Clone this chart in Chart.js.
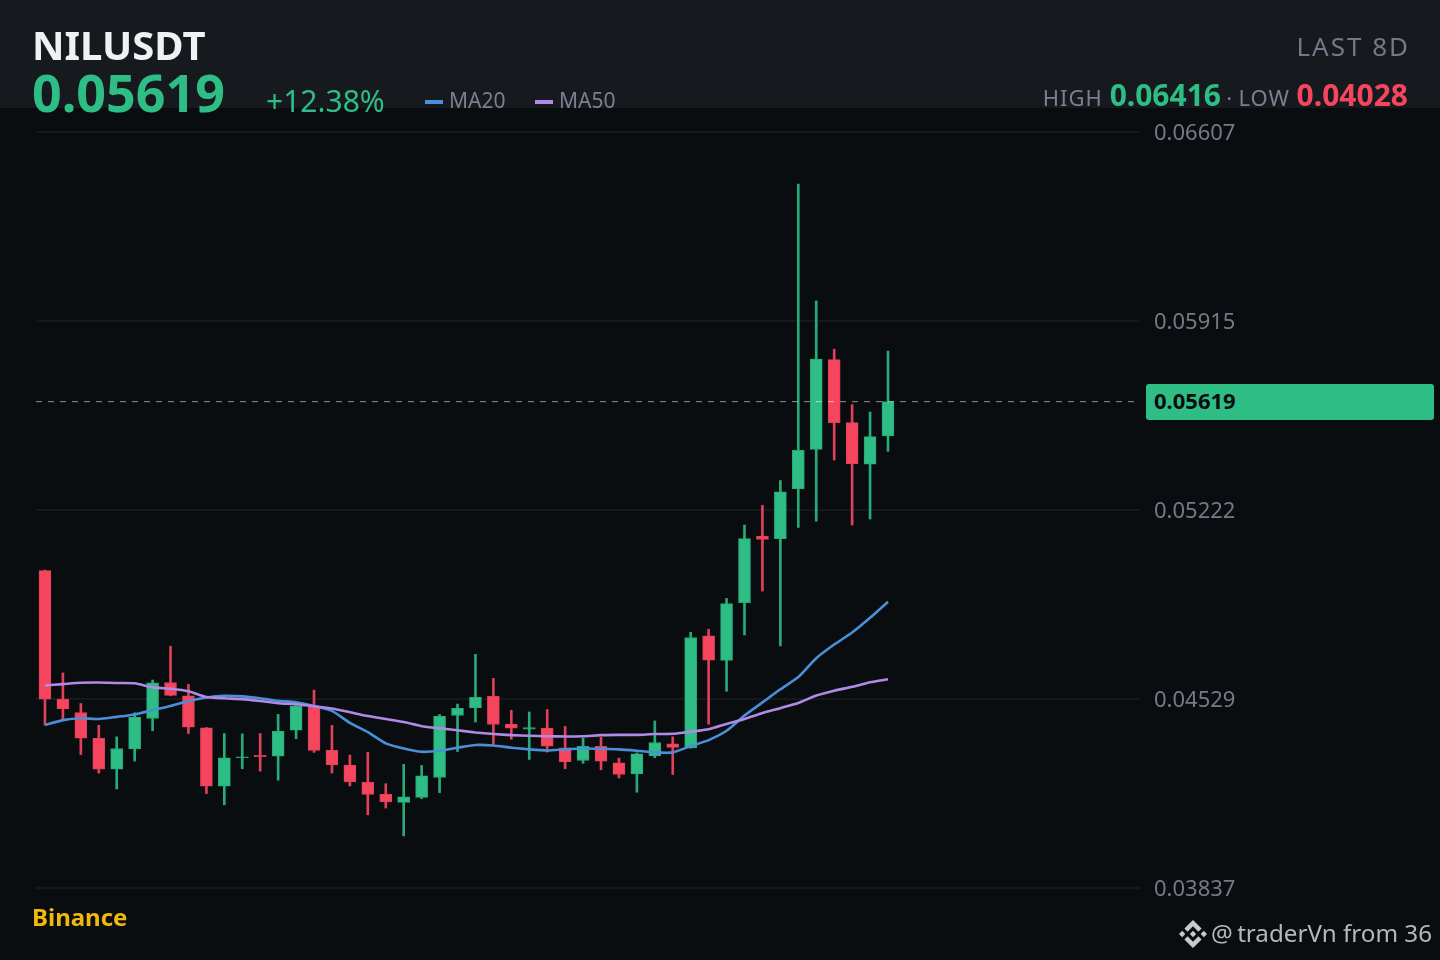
<!DOCTYPE html>
<html>
<head>
<meta charset="utf-8">
<title>NILUSDT</title>
<script src="https://cdn.jsdelivr.net/npm/chart.js@4/dist/chart.umd.min.js"></script>
<style>
    html, body { margin: 0; padding: 0; background: #0a0d10; }
    body { width: 1440px; height: 960px; overflow: hidden; position: relative; font-family: "Noto Sans", sans-serif; }
    #band { position: absolute; left: 0; top: 0; width: 1440px; height: 108px; background: #161a1f; }
    #chart { position: absolute; left: 0; top: 0; }
    .txt { position: absolute; white-space: nowrap; line-height: 1; }
    .dash { position: absolute; width: 18px; height: 4px; }
    #symbol { left: 32px; top: 25px; font-size: 40px; font-weight: 700; color: #f0f1f5; }
    #price { left: 32px; top: 66px; font-size: 52px; font-weight: 700; color: #2ebd85; }
    #change { left: 266px; top: 86px; font-size: 30px; color: #2ebd85; }
    .legend { top: 90px; font-size: 21px; color: #7a8090; }
    #last { right: 30px; top: 33px; font-size: 26px; letter-spacing: 2px; color: #727988; }
    #hilo { right: 32px; top: 80px; font-size: 22px; letter-spacing: 1px; color: #7a8090; }
    #hilo b { font-size: 30px; font-weight: 700; letter-spacing: 0; }
    #hilo i { font-style: normal; margin: 0 -1.5px; }
    #tag { position: absolute; left: 1146px; width: 288px; height: 36px; background: #2ebd85; border-radius: 3px;
           font-size: 22px; font-weight: 700; color: #0a0d10; line-height: 33px; text-indent: 8px; }
    #venue { left: 32px; top: 905px; font-size: 24px; font-weight: 700; color: #f0b90b; }
    #credit { right: 8px; top: 921px; font-size: 24.2px; color: #b4b8be; }
    #credit span { margin-right: -2px; }
    #logo { position: absolute; left: 1179px; top: 920px; width: 28px; height: 28px; fill: #c8cacd; }
</style>
</head>
<body>
<div id="band"></div>
<canvas id="chart" width="1440" height="960"></canvas>

<div class="txt" id="symbol">NILUSDT</div>
<div class="txt" id="price">0.05619</div>
<div class="txt" id="change">+12.38%</div>
<div class="dash" style="left:425px;top:100px;background:#4a90d9"></div>
<div class="txt legend" style="left:449px">MA20</div>
<div class="dash" style="left:535px;top:100px;background:#b08ae6"></div>
<div class="txt legend" style="left:559px">MA50</div>
<div class="txt" id="last">LAST 8D</div>
<div class="txt" id="hilo">HIGH <b style="color:#2ebd85">0.06416</b> <i>·</i> LOW <b style="color:#f6465d">0.04028</b></div>
<div id="tag">0.05619</div>
<div class="txt" id="venue">Binance</div>
<svg id="logo" viewBox="0 0 24 24"><path d="M16.624 13.9202l2.7175 2.7154-7.353 7.353-7.353-7.352 2.7175-2.7164 4.6355 4.6595 4.6356-4.6595zm4.6366-4.6366L24 12l-2.7154 2.7164L18.5682 12l2.6924-2.7164zm-9.272.001l2.7163 2.6914-2.7164 2.7174v-.001L9.2721 12l2.7164-2.7154zm-9.2722-.001L5.4088 12l-2.6914 2.6924L0 12l2.7164-2.7164zM11.9885.0115l7.353 7.329-2.7174 2.7154-4.6356-4.6356-4.6355 4.6595-2.7174-2.7154 7.353-7.353z"/></svg>
<div class="txt" id="credit"><span>@</span> traderVn from 36</div>

<script>
/* =========================
   DATA
========================= */
const opens = [
    0.05000, 0.04529, 0.04480, 0.04385, 0.04272, 0.04347, 0.04458, 0.04590,
    0.04541, 0.04424, 0.04210, 0.04314, 0.04323, 0.04320, 0.04415, 0.04500,
    0.04341, 0.04287, 0.04224, 0.04180, 0.04151, 0.04169, 0.04242, 0.04469,
    0.04497, 0.04539, 0.04437, 0.04419, 0.04423, 0.04351, 0.04304, 0.04356,
    0.04296, 0.04255, 0.04321, 0.04365, 0.04350, 0.04761, 0.04671, 0.04882,
    0.05126, 0.05117, 0.05299, 0.05444, 0.05773, 0.05542, 0.05390, 0.05493
];
const highs = [
    0.05002, 0.04625, 0.04513, 0.04433, 0.04391, 0.04479, 0.04599, 0.04723,
    0.04583, 0.04425, 0.04403, 0.04402, 0.04403, 0.04473, 0.04507, 0.04562,
    0.04433, 0.04324, 0.04334, 0.04219, 0.04290, 0.04286, 0.04473, 0.04511,
    0.04693, 0.04605, 0.04488, 0.04482, 0.04491, 0.04429, 0.04386, 0.04389,
    0.04313, 0.04332, 0.04449, 0.04391, 0.04774, 0.04785, 0.04898, 0.05167,
    0.05239, 0.05330, 0.06416, 0.05988, 0.05811, 0.05608, 0.05581, 0.05804
];
const lows = [
    0.04434, 0.04456, 0.04326, 0.04258, 0.04200, 0.04302, 0.04413, 0.04541,
    0.04403, 0.04183, 0.04142, 0.04274, 0.04265, 0.04232, 0.04384, 0.04334,
    0.04258, 0.04211, 0.04105, 0.04130, 0.04028, 0.04164, 0.04186, 0.04337,
    0.04445, 0.04363, 0.04382, 0.04308, 0.04335, 0.04274, 0.04294, 0.04270,
    0.04240, 0.04188, 0.04314, 0.04253, 0.04349, 0.04437, 0.04558, 0.04764,
    0.04925, 0.04724, 0.05158, 0.05181, 0.05405, 0.05167, 0.05189, 0.05437
];
const closes = [
    0.04529, 0.04493, 0.04386, 0.04272, 0.04348, 0.04463, 0.04589, 0.04543,
    0.04426, 0.04210, 0.04314, 0.04318, 0.04318, 0.04411, 0.04503, 0.04341,
    0.04288, 0.04226, 0.04180, 0.04152, 0.04171, 0.04248, 0.04466, 0.04495,
    0.04536, 0.04436, 0.04423, 0.04425, 0.04357, 0.04299, 0.04356, 0.04302,
    0.04253, 0.04329, 0.04370, 0.04352, 0.04755, 0.04672, 0.04879, 0.05117,
    0.05114, 0.05289, 0.05441, 0.05775, 0.05542, 0.05392, 0.05491, 0.05619
];
const ma20 = [
    0.04434, 0.04452, 0.04459, 0.04456, 0.04464, 0.04473, 0.04489, 0.04504,
    0.04522, 0.04535, 0.04541, 0.04539, 0.04532, 0.04523, 0.04517, 0.04504,
    0.04486, 0.04442, 0.04408, 0.04367, 0.04348, 0.04336, 0.04340, 0.04351,
    0.04361, 0.04359, 0.04351, 0.04345, 0.04341, 0.04345, 0.04348, 0.04347,
    0.04345, 0.04340, 0.04334, 0.04334, 0.04357, 0.04379, 0.04413, 0.04469,
    0.04517, 0.04565, 0.04610, 0.04679, 0.04729, 0.04773, 0.04827, 0.04886
];
const ma50 = [
    0.04579, 0.04584, 0.04589, 0.04590, 0.04588, 0.04587, 0.04572, 0.04567,
    0.04558, 0.04537, 0.04532, 0.04529, 0.04522, 0.04514, 0.04510, 0.04503,
    0.04495, 0.04481, 0.04467, 0.04456, 0.04445, 0.04430, 0.04422, 0.04415,
    0.04407, 0.04401, 0.04397, 0.04395, 0.04393, 0.04392, 0.04393, 0.04397,
    0.04398, 0.04398, 0.04401, 0.04402, 0.04410, 0.04419, 0.04438, 0.04456,
    0.04478, 0.04496, 0.04515, 0.04542, 0.04560, 0.04574, 0.04591, 0.04602
];
const yTicks = [0.03837, 0.04529, 0.05222, 0.05915, 0.06607];
const lastPrice = 0.05619;

/* =========================
   CHART
========================= */
const UP = '#2ebd85';
const DOWN = '#f6465d';
const X_MIN = -0.5;
const X_MAX = 61.05;

const candleColors = closes.map((c, i) => (c >= opens[i] ? UP : DOWN));
const wickColors = closes.map((c, i) => (c >= opens[i] ? '#27ab78' : '#e0405a'));

Chart.defaults.font.family = '"Noto Sans", sans-serif';

const chart = new Chart(document.getElementById('chart'), {
    type: 'bar',
    data: {
        datasets: [
            {
                type: 'line',
                data: [{ x: X_MIN, y: lastPrice }, { x: X_MAX, y: lastPrice }],
                borderColor: 'rgba(255,255,255,0.55)',
                borderWidth: 1,
                borderDash: [6, 6],
                pointRadius: 0,
                order: 0
            },
            {
                type: 'line',
                label: 'MA50',
                data: ma50.map((v, i) => ({ x: i, y: v })),
                borderColor: '#b08ae6',
                borderWidth: 2.6,
                pointRadius: 0,
                tension: 0.2,
                order: 1
            },
            {
                type: 'line',
                label: 'MA20',
                data: ma20.map((v, i) => ({ x: i, y: v })),
                borderColor: '#4a90d9',
                borderWidth: 2.6,
                pointRadius: 0,
                tension: 0.2,
                order: 1
            },
            {
                // candle bodies
                data: opens.map((o, i) => ({ x: i, y: [o, closes[i]] })),
                backgroundColor: candleColors,
                borderColor: wickColors,
                borderWidth: 1,
                borderSkipped: false,
                barThickness: 12,
                order: 2
            },
            {
                // wicks
                data: lows.map((l, i) => ({ x: i, y: [l, highs[i]] })),
                backgroundColor: wickColors,
                borderWidth: 0,
                barThickness: 2,
                order: 3
            }
        ]
    },
    options: {
        responsive: false,
        animation: false,
        devicePixelRatio: 1,
        layout: { padding: { left: 36, top: 132, bottom: 72, right: 0 } },
        plugins: { legend: { display: false }, tooltip: { enabled: false } },
        datasets: { bar: { grouped: false } },
        scales: {
            x: { type: 'linear', display: false, offset: false, min: X_MIN, max: X_MAX },
            y: {
                position: 'right',
                min: yTicks[0],
                max: yTicks[yTicks.length - 1],
                afterBuildTicks: scale => { scale.ticks = yTicks.map(v => ({ value: v })); },
                afterFit: scale => { scale.width = 300; },
                border: { display: false },
                grid: { color: '#15191d', lineWidth: 2, drawTicks: false },
                ticks: {
                    color: '#747a86',
                    padding: 14,
                    labelOffset: 2,
                    font: { size: 22 },
                    callback: v => v.toFixed(5)
                }
            }
        }
    }
});

// current price tag sits on the y scale
document.getElementById('tag').style.top = (chart.scales.y.getPixelForValue(lastPrice) - 18) + 'px';
</script>
</body>
</html>
